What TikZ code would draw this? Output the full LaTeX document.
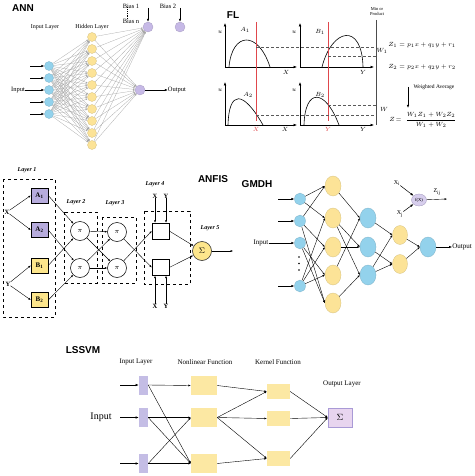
\documentclass[tikz,border=0pt]{standalone}
\usepackage{fontspec}
\setmainfont{Liberation Serif}
\newfontfamily\headfont{Liberation Sans}
\usetikzlibrary{arrows.meta,shapes.geometric}
\definecolor{cblue}{HTML}{93D2EC}
\definecolor{cyel}{HTML}{FCE397}
\definecolor{cpur}{HTML}{C6B9E6}
\definecolor{apur}{HTML}{B7ACDD}
\definecolor{ayel}{HTML}{FDE68C}
\definecolor{fred}{HTML}{E0474C}
\definecolor{lpur}{HTML}{C4BDE5}
\definecolor{lyel}{HTML}{FCE8A3}
\definecolor{lout}{HTML}{E8D5EF}
\definecolor{lbord}{HTML}{A99AD6}
\begin{document}
\begin{tikzpicture}[x=1pt,y=-1pt,
  head/.style={font=\headfont\bfseries\fontsize{10}{12}\selectfont, inner sep=0},
  t5/.style={font=\fontsize{4.5}{5}\selectfont, inner sep=0, align=center},
  t6/.style={font=\fontsize{6}{7}\selectfont, inner sep=0},
  t65/.style={font=\fontsize{6.5}{7.5}\selectfont, inner sep=0},
  t7/.style={font=\fontsize{7}{8}\selectfont, inner sep=0},
  t10/.style={font=\fontsize{10}{12}\selectfont, inner sep=0},
  lay/.style={font=\bfseries\itshape\fontsize{6}{7}\selectfont, inner sep=0},
  arr/.style={-{Latex[length=3pt,width=2.4pt]}, line width=0.5pt},
  thick arr/.style={-{Latex[length=3.2pt,width=2.6pt]}, line width=0.9pt},
  tarr/.style={-{Latex[length=2.4pt,width=2pt]}, line width=0.4pt},
  annl/.style={draw=gray!70, line width=0.25pt, -{Latex[length=1.8pt,width=1.5pt]}},
  nblue/.style={circle, fill=cblue, draw=cblue!85!black, line width=0.3pt, minimum size=9pt, inner sep=0},
  nyel/.style={circle, fill=cyel, draw=cyel!85!black, line width=0.3pt, minimum size=9pt, inner sep=0},
  npur/.style={circle, fill=cpur, draw=cpur!85!black, line width=0.3pt, minimum size=10pt, inner sep=0},
  axes/.style={{Latex[length=3.5pt,width=2.8pt]}-{Latex[length=3.5pt,width=2.8pt]}, line width=0.6pt},
  curve/.style={line width=0.6pt},
  redl/.style={draw=fred, line width=0.6pt},
  fldash/.style={densely dashed, draw=gray!70!black, line width=0.4pt},
  fl/.style={font=\fontsize{6}{7}\selectfont, inner sep=0},
  afbox/.style={draw, line width=0.5pt, minimum width=17pt, minimum height=15pt, inner sep=0, font=\bfseries\fontsize{7}{8}\selectfont},
  pinode/.style={circle, draw, line width=0.5pt, minimum size=19pt, inner sep=0, font=\fontsize{7}{8}\selectfont},
  sqnode/.style={draw, line width=0.5pt, minimum width=17pt, minimum height=16pt, inner sep=0},
  signode/.style={circle, draw=black!80, fill=ayel, line width=0.6pt, minimum size=19pt, inner sep=0, font=\fontsize{8}{9}\selectfont},
  dbox/.style={draw, dashed, line width=0.5pt},
  xyl/.style={font=\bfseries\fontsize{6.5}{7}\selectfont, inner sep=0},
  gblue/.style={ellipse, fill=cblue, draw=cblue!85!black, line width=0.3pt, inner sep=0},
  gyel/.style={ellipse, fill=cyel, draw=cyel!85!black, line width=0.3pt, inner sep=0},
  lbox/.style={draw=none, inner sep=0},
]
\useasboundingbox (0,0) rectangle (474,476);
\fill[white] (0,0) rectangle (474,476);

% ================= ANN =================
\node[head] (annt) at (23,8) {ANN};
\node[t6] (inl) at (45,27) {Input Layer};
\node[t6] (hidl) at (92,27) {Hidden Layer};
\foreach \k in {1,...,5} \node[nblue] (i\k) at (49,{54+12*\k}) {};
\foreach \k in {1,...,10} \node[nyel] (h\k) at (92,{25+12*\k}) {};
\node[npur] (ao) at (140,90) {};
\node[npur] (ab1) at (148,27) {};
\node[npur] (ab2) at (180,27) {};
\foreach \a in {1,...,5} \foreach \b in {1,...,10} \draw[annl] (i\a) -- (h\b);
\foreach \b in {1,...,10} {\draw[annl] (h\b) -- (ao); \draw[annl] (h\b) -- (ab1);}
\foreach \k in {1,2,4,5} {\coordinate (ia\k) at (30,{54+12*\k}); \draw[arr] (ia\k) -- (i\k);}
\node[t65] (annin) at (18,90) {Input};
\draw[arr] (annin) -- (i3);
\node[t65] (annout) at (177,90) {Output};
\draw[arr] (ao) -- (annout);
\node[t65] (bias1) at (131,6) {Bias 1};
\node[t65] (biasn) at (131,21) {Bias n};
\draw[densely dotted, line width=0.8pt] ([xshift=-4pt,yshift=1pt]bias1.south) -- ([xshift=-4pt,yshift=-1pt]biasn.north);
\node[t65] (bias2) at (168,6) {Bias 2};
\coordinate (ba1) at (148,8); \coordinate (ba2) at (180,8);
\draw[arr, line width=0.7pt] (ba1) -- (ab1);
\draw[arr, line width=0.7pt] (ba2) -- (ab2);

% ================= FL =================
\node[head] (flt) at (233,15) {FL};
% top-left
\coordinate (tlY) at (225,23); \coordinate (tlO) at (225,67); \coordinate (tlX) at (297,67);
\draw[axes] (tlY) -- (tlO) -- (tlX);
\draw[curve] (229,67) .. controls (232,32) and (258,30) .. (270,67);
\node[fl] (tlu) at (220,32) {$u$};
\node[fl] (tla) at (245,30) {$A_1$};
\node[fl] (tlx) at (286,72) {$X$};
% top-right
\coordinate (trY) at (300,23); \coordinate (trO) at (300,67); \coordinate (trX) at (374,67);
\draw[axes] (trY) -- (trO) -- (trX);
\draw[curve] (322,67) .. controls (332,28) and (362,22) .. (363,67);
\node[fl] (tru) at (294,32) {$u$};
\node[fl] (trb) at (320,32) {$B_1$};
\node[fl] (trx) at (363,72) {$Y$};
% bottom-left
\coordinate (blY) at (225,82); \coordinate (blO) at (225,125); \coordinate (blX) at (297,125);
\draw[axes] (blY) -- (blO) -- (blX);
\draw[curve] (228,125) .. controls (229,90) and (243,90) .. (263,125);
\node[fl] (blu) at (220,90) {$u$};
\node[fl] (bla) at (248,95) {$A_2$};
\node[fl] (blx) at (285,129) {$X$};
% bottom-right
\coordinate (brY) at (300,82); \coordinate (brO) at (300,125); \coordinate (brX) at (374,125);
\draw[axes] (brY) -- (brO) -- (brX);
\draw[curve] (304,125) .. controls (305,88) and (325,88) .. (339,125);
\node[fl] (bru) at (294,90) {$u$};
\node[fl] (brb) at (320,95) {$B_2$};
\node[fl] (brx) at (363,129) {$Y$};
% red lines
\draw[redl] (256,22) -- (256,121);
\draw[redl] (328,22) -- (328,121);
\node[fl, text=fred] (rxl) at (256,129) {$X$};
\node[fl, text=fred] (ryl) at (328,129) {$Y$};
% min line
\draw[draw=gray!60!black, line width=0.5pt] (376,20) -- (376,125);
\node[t5] (minp) at (377,12) {Min or\\Product};
\draw[fldash] (256,47) -- (376,47);
\draw[fldash] (328,56) -- (376,56);
\draw[fldash] (256,115) -- (376,115);
\draw[fldash] (328,105) -- (376,105);
\node[fl] (w1) at (382,51) {$W_1$};
\node[fl] (w2) at (384,109) {$W$};
\node[fl] (z1) at (422,45) {$Z_1 = p_1x + q_1y + r_1$};
\node[fl] (z2) at (422,67) {$Z_2 = p_2x + q_2y + r_2$};
\node[font=\fontsize{5.5}{6}\selectfont, inner sep=0] (wav) at (434,87) {Weighted Average};
\coordinate (wa1) at (408,87); \coordinate (wa2) at (408,108);
\draw[thick arr] (wa1) -- (wa2);
\node[fl] (zf) at (423,120) {$Z\!=\;\displaystyle\frac{W_1Z_1+W_2Z_2}{W_1+W_2}$};

% ================= ANFIS =================
\node[head] (anfist) at (213,179) {ANFIS};
\node[lay] (l1) at (27,170) {Layer 1};
\node[lay] (l2) at (76,202) {Layer 2};
\node[lay] (l3) at (115,203) {Layer 3};
\node[lay] (l4) at (155,184) {Layer 4};
\node[lay] (l5) at (210,228) {Layer 5};
\draw[dbox] (3,179) rectangle (55,317);
\draw[dbox] (64,212) rectangle (97,283);
\draw[dbox] (102,217) rectangle (136,283);
\draw[dbox] (144,211) rectangle (190,284);
\node[afbox, fill=apur] (A1) at (39.5,195.5) {A\textsubscript{1}};
\node[afbox, fill=apur] (A2) at (39.5,230) {A\textsubscript{2}};
\node[afbox, fill=ayel] (B1) at (39.5,265.5) {B\textsubscript{1}};
\node[afbox, fill=ayel] (B2) at (39.5,300) {B\textsubscript{2}};
\node[xyl] (ax) at (7,212) {X};
\node[xyl] (ay) at (8,284) {Y};
\draw[tarr] (ax) -- (A1.west);
\draw[tarr] (ax) -- (A2.west);
\draw[tarr] (ay) -- (B1.west);
\draw[tarr] (ay) -- (B2.west);
\node[pinode] (p21) at (80,231) {$\pi$};
\node[pinode] (p22) at (80,268) {$\pi$};
\node[pinode] (p31) at (117,232) {$\pi$};
\node[pinode] (p32) at (117,268) {$\pi$};
\draw[tarr] (A1.east) -- (p21);
\draw[tarr] (B1.east) -- (p21);
\draw[tarr] (A2.east) -- (p22);
\draw[tarr] (B2.east) -- (p22);
\draw[tarr] (p21) -- (p31);
\draw[tarr] (p21) -- (p32);
\draw[tarr] (p22) -- (p31);
\draw[tarr] (p22) -- (p32);
\node[sqnode] (s41) at (160.5,231) {};
\node[sqnode] (s42) at (160.5,267.5) {};
\draw[tarr] (p31) -- (s42.west);
\draw[tarr] (p32) -- (s41.west);
\node[xyl] (tx) at (155,196) {X};
\node[xyl] (ty) at (166,196) {Y};
\node[xyl] (bx) at (155,306) {X};
\node[xyl] (by) at (166,306) {Y};
\draw[tarr] (tx) -- (tx |- s41.north);
\draw[tarr] (ty) -- (ty |- s41.north);
\draw[tarr] (bx) -- (bx |- s42.south);
\draw[tarr] (by) -- (by |- s42.south);
\node[signode] (sig) at (202,251) {$\Sigma$};
\draw[tarr] (s41.east) -- (sig);
\draw[tarr] (s42.east) -- (sig);
\coordinate (sigout) at (233,251);
\draw[tarr] (sig) -- (sigout);

% ================= GMDH =================
\node[head] (gmdht) at (257,184) {GMDH};
\node[gblue, minimum width=11pt, minimum height=12pt] (gi1) at (300,199) {};
\node[gblue, minimum width=11pt, minimum height=12pt] (gi2) at (300,221) {};
\node[gblue, minimum width=11pt, minimum height=12pt] (gi3) at (300,243) {};
\node[gblue, minimum width=11pt, minimum height=12pt] (gi4) at (300,286) {};
\foreach \k/\yy in {1/257,2/263.5,3/270} \fill (299,\yy) circle (0.8pt);
\foreach \k/\yy in {1/199,2/221,4/286} {\coordinate (gia\k) at (278,\yy); \draw[arr] (gia\k) -- (gi\k);}
\node[t7] (gin) at (261,243) {Input};
\draw[arr] (gin) -- (gi3);
\foreach \k/\yy in {1/186,2/218,3/247,4/275,5/303} \node[gyel, minimum width=16pt, minimum height=20pt] (gy\k) at (333,\yy) {};
\foreach \k/\yy in {1/218,2/247,3/275} \node[gblue, minimum width=16pt, minimum height=20pt] (gb\k) at (368,\yy) {};
\foreach \k/\yy in {1/235,2/264} \node[gyel, minimum width=15pt, minimum height=19pt] (gz\k) at (400,\yy) {};
\node[gblue, minimum width=16pt, minimum height=20pt] (go) at (428,247) {};
\foreach \a/\b in {1/1,2/1,1/2,4/2,2/3,4/3,3/4,4/4,2/5,3/5} \draw[tarr] (gi\a) -- (gy\b.west);
\foreach \a/\b in {1/1,4/1,3/2,2/2,2/3,5/3} \draw[tarr] (gy\a) -- (gb\b.west);
\foreach \a/\b in {1/1,3/1,2/2,3/2} \draw[tarr] (gb\a) -- (gz\b.west);
\draw[tarr] (gz1) -- (go.west);
\draw[tarr] (gz2) -- (go.west);
\node[t7] (gout) at (462,247) {Output};
\draw[arr] (go) -- (gout);
% inset
\node[t6] (xi) at (397,183) {X\textsubscript{i}};
\node[t6] (xj) at (400,214) {X\textsubscript{j}};
\node[ellipse, fill=cpur!70, draw=cpur!80!black, line width=0.3pt, minimum width=15pt, minimum height=12pt, inner sep=0, font=\fontsize{4.5}{5}\selectfont] (fx) at (419,200) {f(X)};
\draw[arr] (xi) -- (fx);
\draw[arr] (xj) -- (fx);
\coordinate (fxo) at (447,199);
\draw[tarr] (fx) -- (fxo);
\node[t6] (zij) at (437,192) {Z\textsubscript{ij}};

% ================= LSSVM =================
\node[head] (lsst) at (83,350) {LSSVM};
\node[t7] (lsil) at (136,362) {Input Layer};
\node[t7] (lsnl) at (205,362) {Nonlinear Function};
\node[t7] (lskl) at (278,362) {Kernel Function};
\node[t7] (lsol) at (342,384) {Output Layer};
\node[t10] (lsin) at (101,417) {Input};
\foreach \k/\yy in {1/385,2/417.5,3/463.5} \node[lbox, fill=lpur, minimum width=9pt, minimum height=19pt] (li\k) at (143.5,\yy) {};
\foreach \k/\yy in {1/385.5,2/417.5,3/463.5} \node[lbox, fill=lyel, minimum width=26pt, minimum height=19pt] (ln\k) at (204,\yy) {};
\foreach \k/\yy in {1/391.5,2/418.5,3/458.5} \node[lbox, fill=lyel, minimum width=23pt, minimum height=15pt] (lk\k) at (278.5,\yy) {};
\node[draw=lbord, fill=lout, line width=0.5pt, minimum width=24pt, minimum height=19pt, inner sep=0, font=\fontsize{9}{10}\selectfont] (lo) at (340,417.5) {$\Sigma$};
\foreach \k/\yy in {1/385,2/417.5,3/463.5} {\coordinate (lia\k) at (120,\yy); \draw[thick arr] (lia\k) -- (li\k.west);}
\foreach \a/\b in {1/1,1/3,2/2,2/3,3/2,3/3} \draw[tarr] (li\a.east) -- (ln\b.west);
\foreach \a/\b in {1/1,2/1,2/2,2/3,3/3} \draw[tarr] (ln\a.east) -- (lk\b.west);
\foreach \a in {1,2,3} \draw[tarr] (lk\a.east) -- (lo.west);
\end{tikzpicture}
\end{document}
